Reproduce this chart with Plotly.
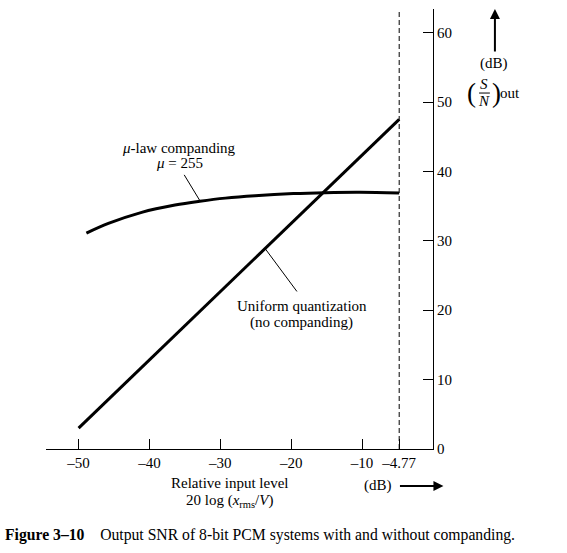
import plotly.graph_objects as go

# input level in dB
uniform_x = [-50, -4.77]
uniform_y = [3.0, 47.5]

mulaw_x = [-48.9, -45.8, -41.1, -36.4, -32.9, -29.3, -25.1, -19.7, -15.2, -10.3, -4.77]
mulaw_y = [31.1, 32.5, 34.1, 35.15, 35.7, 36.15, 36.5, 36.8, 36.93, 36.98, 36.88]

x_ticks = [-50, -40, -30, -20, -10, -4.77]
x_tick_text = ["–50", "–40", "–30", "–20", "–10", "–4.77"]
y_ticks = [0, 10, 20, 30, 40, 50, 60]

serif = "Liberation Serif"

fig = go.Figure()
fig.add_trace(go.Scatter(x=mulaw_x, y=mulaw_y, mode="lines",
                         line=dict(color="black", width=3, shape="spline"),
                         showlegend=False, hoverinfo="skip"))
fig.add_trace(go.Scatter(x=uniform_x, y=uniform_y, mode="lines",
                         line=dict(color="black", width=3),
                         showlegend=False, hoverinfo="skip"))

# dashed limit at -4.77 dB
fig.add_shape(type="line", xref="x", yref="paper", x0=-4.77, x1=-4.77, y0=0, y1=1.0,
              line=dict(color="black", width=1, dash="5px,3px"))

# leader lines
fig.add_shape(type="line", x0=-35.1, y0=39.5, x1=-32.9, y1=35.8,
              line=dict(color="black", width=1))
fig.add_shape(type="line", x0=-23.7, y0=28.9, x1=-19.2, y1=22.7,
              line=dict(color="black", width=1))

fnt = dict(family=serif, size=15, color="black")


def label(text, x, y, ref="data", size=15, xanchor="center"):
    kw = dict(xref="paper", yref="paper") if ref == "paper" else {}
    fig.add_annotation(x=x, y=y, text=text, showarrow=False, xanchor=xanchor,
                       yanchor="middle", font=dict(family=serif, size=size, color="black"),
                       **kw)


label("<i>μ</i>-law companding", -35.8, 43.4)
label("<i>μ</i> = 255", -35.8, 41.2)
label("Uniform quantization", -18.5, 20.6)
label("(no companding)", -18.5, 18.2)

# y-axis label block
fig.add_annotation(xref="paper", yref="paper", x=1.160, y=1.0, ax=0, ay=44,
                   text="", showarrow=True, arrowhead=2, arrowsize=1, arrowwidth=2,
                   arrowcolor="black")
label("(dB)", 1.157, 0.877, ref="paper")
label("<i>S</i>", 1.132, 0.829, ref="paper")
label("<i>N</i>", 1.132, 0.790, ref="paper")
fig.add_shape(type="line", xref="paper", yref="paper", x0=1.119, x1=1.147,
              y0=0.809, y1=0.809, line=dict(color="black", width=1))
label("(", 1.100, 0.809, ref="paper", size=27)
label(")", 1.164, 0.809, ref="paper", size=27)
label("out", 1.199, 0.809, ref="paper")

# x-axis label block
label("Relative input level", 0.473, -0.077, ref="paper")
label("20 log (<i>x</i><sub>rms</sub>/<i>V</i>)", 0.473, -0.118, ref="paper")
label("(dB)", 0.857, -0.084, ref="paper")
fig.add_annotation(xref="paper", yref="paper", x=1.027, y=-0.084, ax=-45, ay=0,
                   text="", showarrow=True, arrowhead=2, arrowsize=1, arrowwidth=2,
                   arrowcolor="black")

# caption
label("<b>Figure 3–10</b>\u2002\u2002Output SNR of 8-bit PCM systems with and without companding.",
      -0.111, -0.195, ref="paper", size=15.7, xanchor="left")

fig.update_xaxes(range=[-54.6, 0], tickvals=x_ticks, ticktext=x_tick_text,
                 showline=True, linecolor="black", linewidth=1,
                 ticks="inside", ticklen=10, tickcolor="black", tickwidth=1,
                 showgrid=False, zeroline=False, tickfont=fnt)
fig.update_yaxes(range=[0, 63.4], tickvals=y_ticks, side="right",
                 showline=True, linecolor="black", linewidth=1,
                 ticks="inside", ticklen=10, tickcolor="black", tickwidth=1,
                 showgrid=False, zeroline=False, tickfont=fnt)
fig.update_layout(width=567, height=553, margin=dict(l=46, r=134, t=9, b=104),
                  plot_bgcolor="white", paper_bgcolor="white",
                  font=dict(family=serif, color="black"))

fig.write_html("out.html", config={"displayModeBar": False},
               post_script="document.body.style.margin='0';")
